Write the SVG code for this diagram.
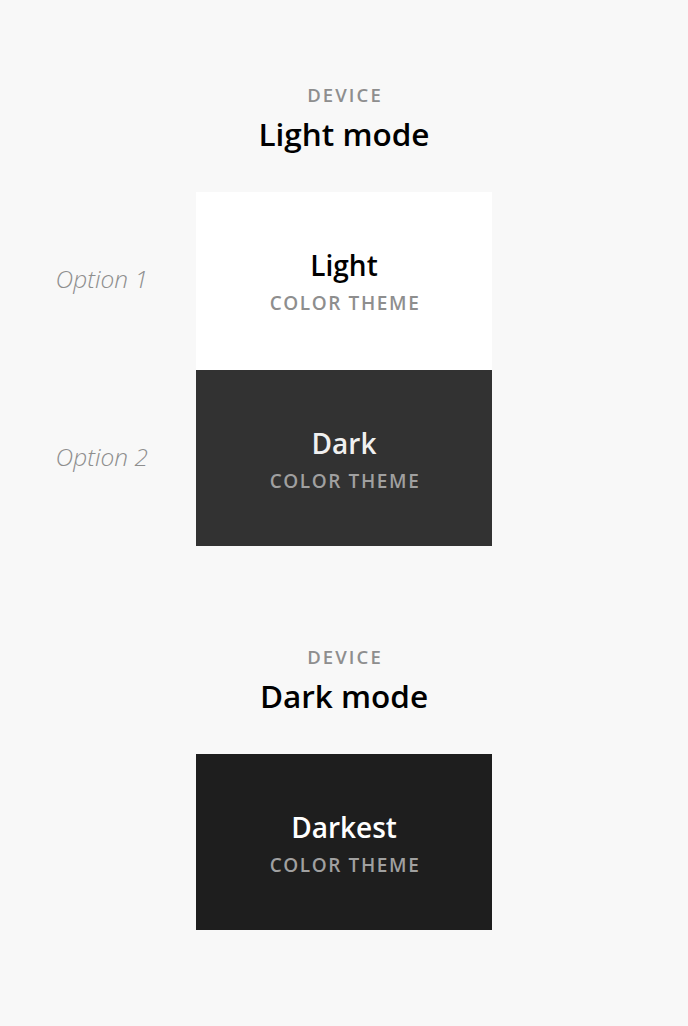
<svg xmlns="http://www.w3.org/2000/svg" width="688" height="1026" viewBox="0 0 688 1026">
<style>
text{font-family:"Open Sans","Noto Sans",sans-serif;text-anchor:middle}
.eyebrow{font-size:18.5px;font-weight:600;fill:#8e8e8e;letter-spacing:2.1px}
.mode{font-size:31.5px;font-weight:600;fill:#000}
.theme{font-size:28px;font-weight:600}
.sub{font-size:19px;font-weight:600;letter-spacing:1.6px}
.opt{font-size:24.5px;font-style:italic;fill:#8e8e8e;text-anchor:end;font-weight:300}
</style>
<rect x="0" y="0" width="688" height="1026" fill="#f8f8f8"/>
<g id="device-light">
<text class="eyebrow" x="345" y="102">DEVICE</text>
<text class="mode" x="344" y="146">Light mode</text>
</g>
<g id="option1-label"><text class="opt" x="148" y="288">Option 1</text></g>
<g id="light-theme">
<rect x="196" y="192" width="296" height="178" fill="#ffffff"/>
<text class="theme" x="344" y="276" fill="#000">Light</text>
<text class="sub" x="345" y="310" fill="#8e8e8e">COLOR THEME</text>
</g>
<g id="option2-label"><text class="opt" x="148" y="466">Option 2</text></g>
<g id="dark-theme">
<rect x="196" y="370" width="296" height="176" fill="#323232"/>
<text class="theme" x="344" y="454" fill="#f0f0f0">Dark</text>
<text class="sub" x="345" y="488" fill="#a0a0a0">COLOR THEME</text>
</g>
<g id="device-dark">
<text class="eyebrow" x="345" y="664">DEVICE</text>
<text class="mode" x="344" y="708">Dark mode</text>
</g>
<g id="darkest-theme">
<rect x="196" y="754" width="296" height="176" fill="#1e1e1e"/>
<text class="theme" x="344" y="838" fill="#ffffff">Darkest</text>
<text class="sub" x="345" y="872" fill="#a0a0a0">COLOR THEME</text>
</g>
<g id="connectors"></g>
</svg>
